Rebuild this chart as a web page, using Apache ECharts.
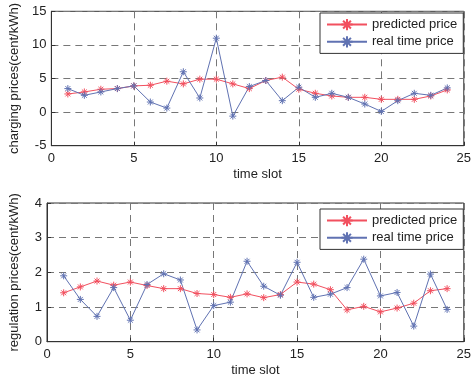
<!DOCTYPE html>
<html>
<head>
<meta charset="utf-8">
<script src="https://cdn.jsdelivr.net/npm/echarts@6/dist/echarts.min.js"></script>
<style>
html,body{margin:0;padding:0;background:#fff;}
#c{width:474px;height:386px;}
</style>
</head>
<body>
<div id="c"></div>
<script>
var timeSlots = [1,2,3,4,5,6,7,8,9,10,11,12,13,14,15,16,17,18,19,20,21,22,23,24];
var chargingPredicted = [2.7,3.0,3.4,3.5,3.9,4.0,4.6,4.2,4.9,4.9,4.2,3.5,4.7,5.2,3.4,2.8,2.4,2.2,2.2,1.9,1.9,1.9,2.4,3.3];
var chargingReal = [3.5,2.5,3.0,3.5,3.9,1.5,0.6,6.0,2.1,11.0,-0.6,3.8,4.7,1.7,3.7,2.2,2.8,2.2,1.2,0.1,1.7,2.8,2.5,3.6];
var regulationPredicted = [1.41,1.58,1.75,1.63,1.72,1.62,1.53,1.53,1.39,1.36,1.28,1.38,1.27,1.36,1.72,1.66,1.50,0.92,1.02,0.86,0.97,1.11,1.47,1.53];
var regulationReal = [1.90,1.22,0.73,1.56,0.62,1.65,1.96,1.78,0.34,1.04,1.14,2.32,1.60,1.34,2.29,1.28,1.37,1.56,2.38,1.32,1.42,0.45,1.95,0.93];
var xTicks = [0,5,10,15,20,25];
var chargingTicks = [-5,0,5,10,15];
var regulationTicks = [0,1,2,3,4];
var legendNames = ['predicted price','real time price'];

var chart = echarts.init(document.getElementById('c'), null, {renderer:'canvas'});
var font = 'Liberation Sans, Arial, sans-serif';
var RED = '#f2505f', BLUE = '#6072b2';
var star = 'path://M0,-5L0,5M-5,0L5,0M-3.5,-3.5L3.5,3.5M-3.5,3.5L3.5,-3.5';

function pairs(vals){ return vals.map(function(v,i){ return [timeSlots[i], v]; }); }

function xAxis(idx){
  return {
    type:'value', gridIndex:idx, min:xTicks[0], max:xTicks[xTicks.length-1], interval:5,
    name:'time slot', nameLocation:'middle', nameGap:22,
    nameTextStyle:{fontFamily:font,fontSize:13,color:'#222'},
    axisLine:{show:true,onZero:false,lineStyle:{color:'#333',width:1}},
    axisTick:{show:true,inside:true,length:4,lineStyle:{color:'#333'}},
    axisLabel:{fontFamily:font,fontSize:13,color:'#222',margin:6},
    splitLine:{show:true,lineStyle:{color:'#777',type:[7,5],width:1}}
  };
}
function yAxis(idx,ticks,name){
  return {
    type:'value', gridIndex:idx, min:ticks[0], max:ticks[ticks.length-1], interval:ticks[1]-ticks[0],
    name:name, nameLocation:'middle', nameGap:26,
    nameTextStyle:{fontFamily:font,fontSize:13,color:'#222'},
    axisLine:{show:true,onZero:false,lineStyle:{color:'#333',width:1}},
    axisTick:{show:true,inside:true,length:4,lineStyle:{color:'#333'}},
    axisLabel:{fontFamily:font,fontSize:13,color:'#222',margin:5},
    splitLine:{show:true,lineStyle:{color:'#777',type:[7,5],width:1}}
  };
}
function series(name,data,color,idx){
  return {
    type:'line', name:name, xAxisIndex:idx, yAxisIndex:idx, data:pairs(data),
    symbol:star, symbolSize:7, showSymbol:true,
    lineStyle:{color:color,width:1},
    itemStyle:{color:color,borderColor:color,borderWidth:1},
    emphasis:{disabled:true}, animation:false
  };
}
function legend(top){
  return {
    left:320, top:top, orient:'vertical', data:legendNames,
    itemWidth:40, itemHeight:14, itemGap:4,
    padding:[5,6,5,6], borderColor:'#333', borderWidth:1, backgroundColor:'#fff',
    textStyle:{fontFamily:font,fontSize:13,color:'#222'}
  };
}

chart.setOption({
  backgroundColor:'#fff',
  animation:false,
  grid:[
    {left:39.5,right:6,top:7,height:138.7,show:true,borderColor:'#333',borderWidth:1,backgroundColor:'transparent'},
    {left:39.5,right:6,top:203,height:138.7,show:true,borderColor:'#333',borderWidth:1,backgroundColor:'transparent'}
  ],
  legend:[legend(13), legend(209)],
  xAxis:[xAxis(0), xAxis(1)],
  yAxis:[yAxis(0,chargingTicks,'charging prices(cent/kWh)'), yAxis(1,regulationTicks,'regulation prices(cent/kWh)')],
  series:[
    series(legendNames[0],chargingPredicted,RED,0),
    series(legendNames[1],chargingReal,BLUE,0),
    series(legendNames[0],regulationPredicted,RED,1),
    series(legendNames[1],regulationReal,BLUE,1)
  ]
});
</script>
</body>
</html>
